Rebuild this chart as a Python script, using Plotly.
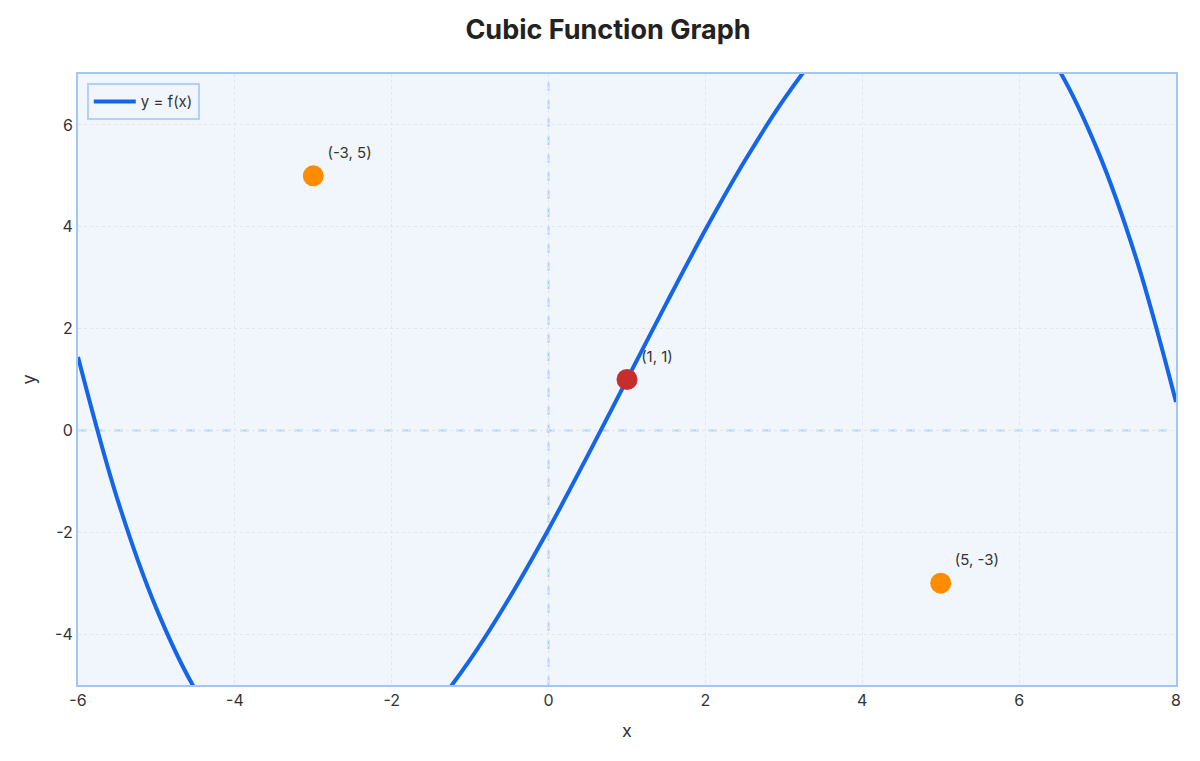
import plotly.graph_objects as go

# curve samples (step 0.5)
curve_x = [-6, -5.5, -5, -4.5, -4, -3.5, -3, -2.5, -2, -1.5, -1, -0.5, 0, 0.5,
           1, 1.5, 2, 2.5, 3, 3.5, 4, 4.5, 5, 5.5, 6, 6.5, 7, 7.5, 8]
curve_y = [1.44, -1.34, -3.5, -5.1, -6.19, -6.8, -7.0, -6.82, -6.31, -5.52, -4.5, -3.29, -1.94, -0.49,
           1.0, 2.49, 3.94, 5.29, 6.5, 7.52, 8.31, 8.82, 9.0, 8.8, 8.19, 7.1, 5.5, 3.34, 0.56]

# marked points
pts_x = [-3, 5]
pts_y = [5, -3]
pts_labels = ["(-3, 5)", "(5, -3)"]
center_x = [1]
center_y = [1]
center_labels = ["(1, 1)"]

# tick labels (plain hyphen minus like the reference)
x_ticks = [-6, -4, -2, 0, 2, 4, 6, 8]
x_ticktext = ["-6", "-4", "-2", "0", "2", "4", "6", "8"]
y_ticks = [-4, -2, 0, 2, 4, 6]
y_ticktext = ["-4", "-2", "0", "2", "4", "6"]

font = "Inter, Lato, sans-serif"

fig = go.Figure()
fig.add_trace(go.Scatter(x=curve_x, y=curve_y, mode="lines", name="y = f(x)",
                         line=dict(color="#1565e8", width=4, shape="spline")))
fig.add_trace(go.Scatter(x=pts_x, y=pts_y, mode="markers+text", text=pts_labels,
                         textposition="top right", showlegend=False,
                         textfont=dict(size=15, color="#333333", family=font),
                         marker=dict(color="#ff8c00", size=21)))
fig.add_trace(go.Scatter(x=center_x, y=center_y, mode="markers+text", text=center_labels,
                         textposition="top right", showlegend=False,
                         textfont=dict(size=15, color="#333333", family=font),
                         marker=dict(color="#c62e2e", size=21)))

fig.update_layout(
    width=1200, height=761,
    title=dict(text="<b>Cubic Function Graph</b>", x=0.5, xanchor="center",
               yref="container", y=0.972, yanchor="middle",
               font=dict(size=27, color="#222222", family=font)),
    paper_bgcolor="white",
    plot_bgcolor="#f1f6fd",
    font=dict(family=font, size=15, color="#333333"),
    margin=dict(l=70, r=32, t=66, b=84),
    legend=dict(x=0.008, y=0.985, xanchor="left", yanchor="top", itemwidth=42,
                bgcolor="#f1f6fd", bordercolor="#b4d0f8", borderwidth=2,
                font=dict(size=15, color="#333333")),
)
fig.update_xaxes(range=[-6, 8], tickvals=x_ticks, ticktext=x_ticktext,
                 title=dict(text="x", font=dict(size=18)),
                 showgrid=True, gridcolor="#dfe7f3", griddash="dot", gridwidth=1,
                 zeroline=False,
                 showline=True, linecolor="#a3c5f8", linewidth=2, mirror=True,
                 ticks="", tickfont=dict(size=16))
fig.update_yaxes(range=[-5, 7], tickvals=y_ticks, ticktext=y_ticktext,
                 title=dict(text="y", font=dict(size=18)),
                 showgrid=True, gridcolor="#dfe7f3", griddash="dot", gridwidth=1,
                 zeroline=False,
                 showline=True, linecolor="#a3c5f8", linewidth=2, mirror=True,
                 ticks="", tickfont=dict(size=16))
# zero lines are dashed in the reference
fig.add_hline(y=0, line=dict(color="#b3cffa", width=2, dash="dash"), layer="below")
fig.add_vline(x=0, line=dict(color="#b3cffa", width=2, dash="dash"), layer="below")

fig.write_html("out.html")
